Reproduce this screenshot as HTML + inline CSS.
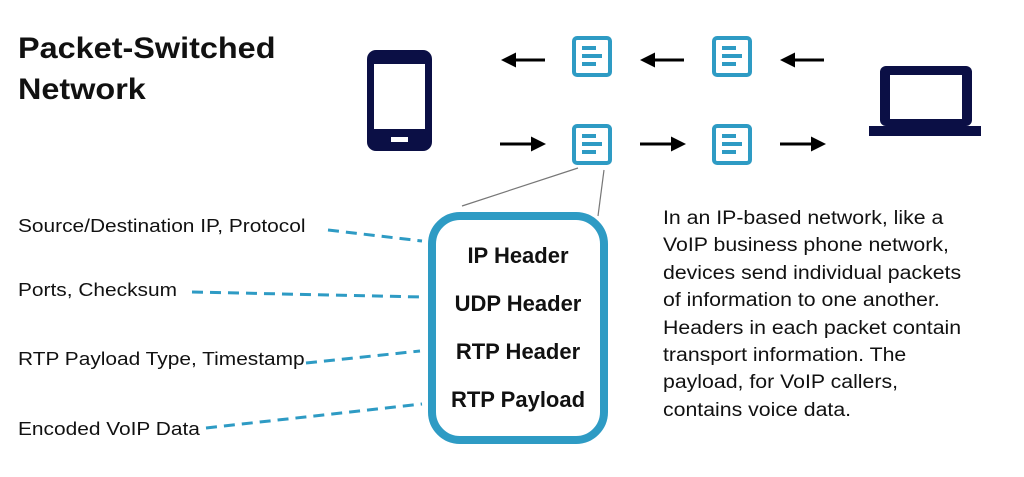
<!DOCTYPE html>
<html><head><meta charset="utf-8"><style>
body{margin:0;width:1024px;height:477px;background:#fff;position:relative;overflow:hidden;font-family:"Liberation Sans",sans-serif;color:#111}
.t{position:absolute;left:18px;top:28px;font-weight:bold;font-size:30px;line-height:41px;transform:scaleX(1.08);transform-origin:left}
.l{position:absolute;left:18px;font-size:18px;white-space:nowrap;transform:scaleX(1.16);transform-origin:left}
.p{position:absolute;left:663px;top:205px;font-size:19px;line-height:27.4px;white-space:nowrap;transform:scaleX(1.12);transform-origin:left}
.h{position:absolute;left:428px;width:180px;text-align:center;font-weight:bold;font-size:22px}
</style></head><body>
<div class="t">Packet-Switched<br>Network</div>
<svg width="1024" height="477" style="position:absolute;left:0;top:0">
<defs>
<g id="pk"><rect x="2" y="2" width="36" height="37" rx="3" fill="#fff" stroke="#2e9bc4" stroke-width="4"/><rect x="10" y="10" width="14" height="4" fill="#2e9bc4"/><rect x="10" y="18" width="20" height="4" fill="#2e9bc4"/><rect x="10" y="26" width="14" height="4" fill="#2e9bc4"/></g>
<marker id="a" markerWidth="5" markerHeight="5" refX="2" refY="2.5" orient="auto"><path d="M0,0L5,2.5L0,5z" fill="#000"/></marker>
</defs>
<rect x="367" y="50" width="65" height="101" rx="9" fill="#0b0f45"/>
<rect x="374" y="64" width="51" height="65" fill="#fff"/>
<rect x="391" y="137" width="17" height="5" fill="#fff"/>
<rect x="880" y="66" width="92" height="60" rx="6" fill="#0b0f45"/>
<rect x="890" y="75" width="72" height="44" fill="#fff"/>
<rect x="869" y="126" width="112" height="10" fill="#0b0f45"/>
<use href="#pk" x="572" y="36"/><use href="#pk" x="712" y="36"/>
<use href="#pk" x="572" y="124"/><use href="#pk" x="712" y="124"/>
<g stroke="#000" stroke-width="3" marker-end="url(#a)">
<line x1="545" y1="60" x2="510" y2="60"/><line x1="684" y1="60" x2="649" y2="60"/><line x1="824" y1="60" x2="789" y2="60"/>
<line x1="500" y1="144" x2="537" y2="144"/><line x1="640" y1="144" x2="677" y2="144"/><line x1="780" y1="144" x2="817" y2="144"/>
</g>
<g stroke="#777" stroke-width="1.2"><line x1="578" y1="168" x2="462" y2="206"/><line x1="604" y1="170" x2="598" y2="216"/></g>
<rect x="432" y="216" width="172" height="224" rx="28" fill="#fff" stroke="#2e9bc4" stroke-width="8"/>
<g stroke="#2e9bc4" stroke-width="3" stroke-dasharray="11,7" fill="none">
<line x1="328" y1="230" x2="422" y2="241"/><line x1="192" y1="292" x2="422" y2="297"/>
<line x1="306" y1="363" x2="420" y2="351"/><line x1="206" y1="428" x2="422" y2="404"/>
</g>
</svg>
<div class="l" style="top:216px">Source/Destination IP, Protocol</div>
<div class="l" style="top:280px">Ports, Checksum</div>
<div class="l" style="top:349px">RTP Payload Type, Timestamp</div>
<div class="l" style="top:419px">Encoded VoIP Data</div>
<div class="h" style="top:243px">IP Header</div>
<div class="h" style="top:291px">UDP Header</div>
<div class="h" style="top:339px">RTP Header</div>
<div class="h" style="top:387px">RTP Payload</div>
<div class="p">In an IP-based network, like a<br>VoIP business phone network,<br>devices send individual packets<br>of information to one another.<br>Headers in each packet contain<br>transport information. The<br>payload, for VoIP callers,<br>contains voice data.</div>
</body></html>
